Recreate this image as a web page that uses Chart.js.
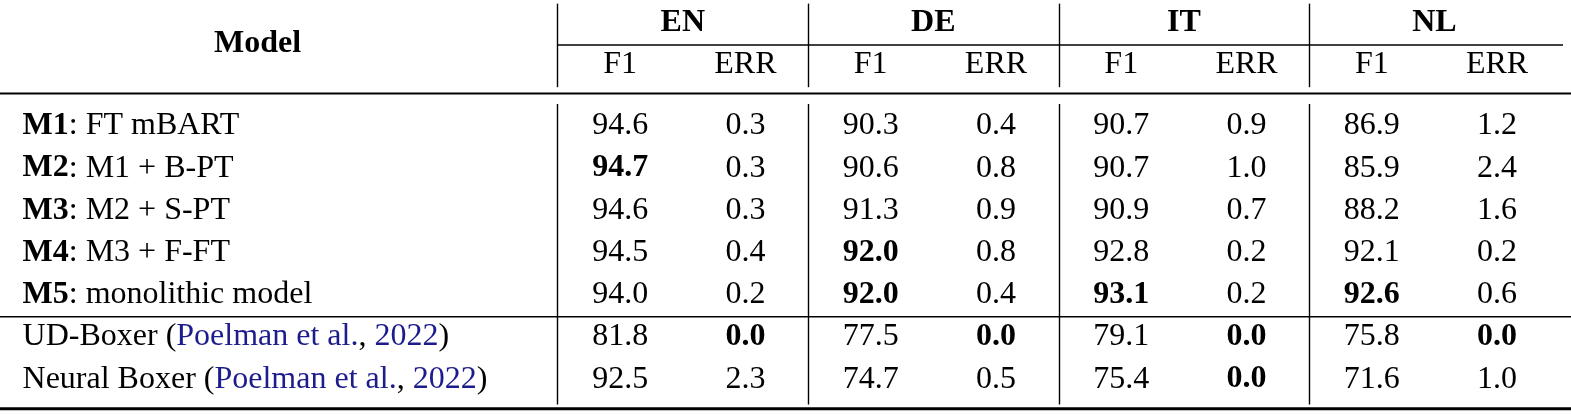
<!DOCTYPE html>
<html><head><meta charset="utf-8">
<script src="https://cdn.jsdelivr.net/npm/chart.js@4"></script>
<style>html,body{margin:0;padding:0;background:#fff}#w{width:1571px;height:415px}</style>
</head><body><div id="w"><canvas id="c"></canvas></div>
<script>
const languages = ["EN","DE","IT","NL"];
const metrics = ["F1","ERR"];
const models = [
  [["M1",1],[": FT mBART",0]],
  [["M2",1],[": M1 + B-PT",0]],
  [["M3",1],[": M2 + S-PT",0]],
  [["M4",1],[": M3 + F-FT",0]],
  [["M5",1],[": monolithic model",0]],
  [["UD-Boxer (",0],["Poelman et al.",2],[", ",0],["2022",2],[")",0]],
  [["Neural Boxer (",0],["Poelman et al.",2],[", ",0],["2022",2],[")",0]]
];
const values = [
  ["94.6","0.3","90.3","0.4","90.7","0.9","86.9","1.2"],
  ["94.7","0.3","90.6","0.8","90.7","1.0","85.9","2.4"],
  ["94.6","0.3","91.3","0.9","90.9","0.7","88.2","1.6"],
  ["94.5","0.4","92.0","0.8","92.8","0.2","92.1","0.2"],
  ["94.0","0.2","92.0","0.4","93.1","0.2","92.6","0.6"],
  ["81.8","0.0","77.5","0.0","79.1","0.0","75.8","0.0"],
  ["92.5","2.3","74.7","0.5","75.4","0.0","71.6","1.0"]
];
const boldCells = [[1,0],[3,2],[4,2],[4,4],[4,6],[5,1],[5,3],[5,5],[5,7],[6,5]];

const pts=[];
values.forEach((r,ri)=>r.forEach((v,ci)=>pts.push({x:ci,y:ri,t:v,b:boldCells.some(b=>b[0]==ri&&b[1]==ci)})));
const hdr=[];
languages.forEach((l,i)=>hdr.push({x:2*i+0.5,y:-2.45,t:l,b:true}));
languages.forEach((l,i)=>metrics.forEach((m,j)=>hdr.push({x:2*i+j,y:-1.45,t:m,b:false})));
hdr.push({x:-4.77,y:-1.95,t:"Model",b:true,model:true});
const names=models.map((m,i)=>({x:-4.77,y:i,seg:m}));

const FONT='"Liberation Serif", "DejaVu Serif", serif';
const SIZE='32px ';
const plugin={id:'tbl',afterDatasetsDraw(ch){
  const c=ch.ctx,xs=ch.scales.x,ys=ch.scales.y;
  c.save();c.fillStyle='#000';c.textBaseline='middle';
  ch.data.datasets.forEach((ds,di)=>{
    const meta=ch.getDatasetMeta(di);
    meta.data.forEach((el,k)=>{
      const d=ds.data[k];
      if(d.seg){
        let x=el.x;c.textAlign='left';
        d.seg.forEach(([s,st])=>{c.font=(st==1?'bold ':'')+SIZE+FONT;c.fillStyle=st==2?'#1c1c8c':'#000';c.fillText(s,x,el.y);x+=c.measureText(s).width;});
      }else{
        c.font=(d.b?'bold ':'')+SIZE+FONT;c.fillStyle='#000';c.textAlign='center';
        c.fillText(d.t,d.model?el.x+235:el.x,el.y);
      }
    });
  });
  c.strokeStyle='#000';
  const L=0,R=ch.width;
  const hl=(y,w,x0,x1)=>{c.lineWidth=w;c.beginPath();c.moveTo(x0,y);c.lineTo(x1,y);c.stroke();};
  hl(ys.getPixelForValue(-0.77),1.8,L,R);
  hl(ys.getPixelForValue(-1.92),1.4,xs.getPixelForValue(-0.5),R-8);
  hl(ys.getPixelForValue(4.52),1.4,L,R);
  hl(ys.getPixelForValue(6.7),3.2,L,R);
  c.lineWidth=1.4;
  for(let i=0;i<4;i++){
    const x=Math.round(xs.getPixelForValue(2*i-0.5))+0.5;
    c.beginPath();c.moveTo(x,ys.getPixelForValue(-2.9));c.lineTo(x,ys.getPixelForValue(-0.92));c.stroke();
    c.beginPath();c.moveTo(x,ys.getPixelForValue(-0.52));c.lineTo(x,ys.getPixelForValue(6.6));c.stroke();
  }
  c.restore();
}};
new Chart(document.getElementById('c'),{
  type:'scatter',
  data:{datasets:[{data:pts,pointRadius:0},{data:hdr,pointRadius:0},{data:names,pointRadius:0}]},
  options:{responsive:true,maintainAspectRatio:false,animation:false,
    layout:{padding:0},
    plugins:{legend:{display:false},tooltip:{enabled:false}},
    scales:{x:{type:'linear',display:false,min:-4.95,max:7.59},
            y:{type:'linear',display:false,reverse:true,min:-2.986,max:6.848}}},
  plugins:[plugin]
});
</script></body></html>
